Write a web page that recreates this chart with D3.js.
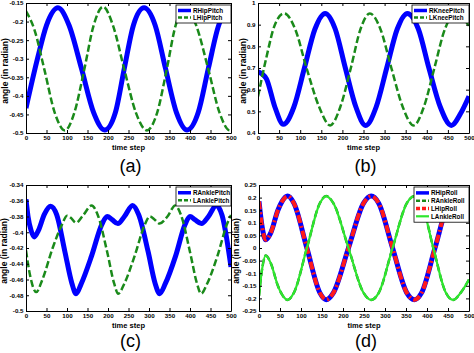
<!DOCTYPE html>
<html>
<head>
<meta charset="utf-8">
<script src="https://cdn.jsdelivr.net/npm/d3@7"></script>
<style>
body { margin: 0; background: #fff; }
text { font-family: "Liberation Sans", Arial, sans-serif; }
</style>
</head>
<body>
<script>
// time steps shared by all four panels
const xTicks = [0, 50, 100, 150, 200, 250, 300, 350, 400, 450, 500];

// (a) hip pitch
const yTicksA = [-0.5, -0.45, -0.4, -0.35, -0.3, -0.25, -0.2, -0.15];
const yLabelsA = ["-0.5", "-0.45", "-0.4", "-0.35", "-0.3", "-0.25", "-0.2", "-0.15"];
const rHipPitch = [[0,-0.433],[28,-0.30],[50,-0.21],[78,-0.163],[105,-0.21],[135,-0.325],[165,-0.445],[192,-0.492],[218,-0.445],[240,-0.325],[262,-0.21],[288,-0.163],[315,-0.21],[340,-0.325],[367,-0.445],[393,-0.492],[420,-0.445],[445,-0.325],[470,-0.21],[495,-0.165],[500,-0.166]];
const lHipPitch = [[0,-0.172],[20,-0.22],[45,-0.33],[70,-0.445],[95,-0.493],[118,-0.445],[142,-0.33],[165,-0.21],[188,-0.16],[212,-0.21],[240,-0.33],[268,-0.445],[295,-0.493],[320,-0.445],[343,-0.33],[365,-0.21],[388,-0.16],[415,-0.21],[445,-0.33],[472,-0.445],[497,-0.493],[500,-0.492]];

// (b) knee pitch
const yTicksB = [0.4, 0.5, 0.6, 0.7, 0.8, 0.9, 1];
const yLabelsB = ["0.4", "0.5", "0.6", "0.7", "0.8", "0.9", "1"];
const rKneePitch = [[0,0.683],[10,0.672],[20,0.65],[40,0.52],[60,0.44],[85,0.52],[110,0.70],[135,0.88],[159,0.952],[183,0.88],[207,0.70],[232,0.52],[255,0.435],[280,0.52],[305,0.70],[330,0.88],[354,0.952],[380,0.88],[405,0.70],[432,0.52],[458,0.435],[480,0.49],[500,0.57]];
const lKneePitch = [[0,0.568],[20,0.75],[40,0.90],[62,0.952],[88,0.88],[115,0.70],[145,0.52],[171,0.435],[195,0.52],[220,0.70],[243,0.88],[265,0.952],[290,0.88],[316,0.70],[343,0.52],[369,0.435],[393,0.52],[418,0.70],[443,0.88],[467,0.952],[490,0.92],[500,0.895]];

// (c) ankle pitch
const yTicksC = [-0.5, -0.48, -0.46, -0.44, -0.42, -0.4, -0.38, -0.36, -0.34];
const yLabelsC = ["-0.5", "-0.48", "-0.46", "-0.44", "-0.42", "-0.4", "-0.38", "-0.36", "-0.34"];
const rAnklePitch = [[0,-0.358],[5,-0.38],[12,-0.397],[20,-0.406],[30,-0.398],[45,-0.377],[60,-0.367],[75,-0.378],[95,-0.425],[112,-0.465],[122,-0.478],[135,-0.465],[160,-0.43],[185,-0.39],[198,-0.38],[210,-0.384],[224,-0.389],[240,-0.38],[260,-0.366],[275,-0.378],[298,-0.425],[315,-0.465],[326,-0.478],[340,-0.465],[365,-0.43],[388,-0.39],[400,-0.38],[412,-0.384],[428,-0.389],[445,-0.38],[464,-0.366],[478,-0.378],[500,-0.444]];
const lAnklePitch = [[0,-0.423],[10,-0.455],[25,-0.476],[40,-0.46],[65,-0.42],[88,-0.39],[100,-0.379],[110,-0.382],[122,-0.388],[140,-0.378],[160,-0.366],[175,-0.378],[198,-0.425],[215,-0.465],[225,-0.478],[240,-0.465],[265,-0.43],[290,-0.39],[302,-0.38],[314,-0.384],[326,-0.389],[345,-0.38],[364,-0.366],[378,-0.378],[400,-0.425],[417,-0.465],[427,-0.478],[442,-0.465],[467,-0.43],[490,-0.39],[500,-0.378]];

// (d) roll joints
const yTicksD = [-0.25, -0.2, -0.15, -0.1, -0.05, 0, 0.05, 0.1, 0.15, 0.2, 0.25];
const yLabelsD = ["-0.25", "-0.2", "-0.15", "-0.1", "-0.05", "0", "0.05", "0.1", "0.15", "0.2", "0.25"];
const rHipRoll = [[0,0.185],[6,0.1],[16,0.033],[28,0.06],[45,0.15],[55,0.185],[68,0.206],[83,0.178],[114,0],[145,-0.178],[160,-0.205],[177,-0.178],[213,0],[249,0.178],[267,0.206],[285,0.178],[318,0],[352,-0.178],[370,-0.205],[387,-0.178],[419,0],[451,0.178],[468,0.206],[485,0.19],[500,0.16]];
const lHipRoll = [[0,0.185],[6,0.1],[16,0.033],[28,0.06],[45,0.15],[55,0.185],[68,0.206],[83,0.178],[114,0],[145,-0.178],[160,-0.205],[177,-0.178],[213,0],[249,0.178],[267,0.206],[285,0.178],[318,0],[352,-0.178],[370,-0.205],[387,-0.178],[419,0],[451,0.178],[468,0.206],[485,0.19],[500,0.16]];
const rAnkleRoll = [[0,-0.19],[6,-0.1],[16,-0.03],[28,-0.06],[45,-0.15],[55,-0.185],[68,-0.206],[83,-0.178],[114,0],[145,0.178],[160,0.206],[177,0.178],[213,0],[249,-0.178],[267,-0.206],[285,-0.178],[318,0],[352,0.178],[370,0.206],[387,0.178],[415,0],[445,-0.178],[462,-0.206],[480,-0.178],[500,-0.125]];
const lAnkleRoll = [[0,-0.19],[6,-0.1],[16,-0.03],[28,-0.06],[45,-0.15],[55,-0.185],[68,-0.206],[83,-0.178],[114,0],[145,0.178],[160,0.206],[177,0.178],[213,0],[249,-0.178],[267,-0.206],[285,-0.178],[318,0],[352,0.178],[370,0.206],[387,0.178],[415,0],[445,-0.178],[462,-0.206],[480,-0.178],[500,-0.125]];

const blue = {stroke: '#0000ff', width: 5, dash: null};
const darkGreen = {stroke: '#1a8a1a', width: 2.5, dash: '7,3'};
const red = {stroke: '#ff1a1a', width: 4, dash: '8,3,2,3'};
const lightGreen = {stroke: '#2ee62e', width: 2.2, dash: null};

const panels = [
  {name: '(a)', left: 26, right: 231, top: 3, bottom: 133, ylab: 7.5, cap: 39, domain: [-0.5, -0.15], yTicks: yTicksA, yLabels: yLabelsA,
   series: [{label: 'RHipPitch', data: rHipPitch, style: blue}, {label: 'LHipPitch', data: lHipPitch, style: darkGreen}],
   legend: {x: 176, y: 5, w: 55, row: 7}},
  {name: '(b)', left: 258, right: 469, top: 3, bottom: 133, ylab: 246, cap: 39, domain: [0.4, 1], yTicks: yTicksB, yLabels: yLabelsB,
   series: [{label: 'RKneePitch', data: rKneePitch, style: blue}, {label: 'LKneePitch', data: lKneePitch, style: darkGreen}],
   legend: {x: 412, y: 5, w: 57, row: 7}},
  {name: '(c)', left: 26, right: 231, top: 185, bottom: 311, ylab: 7, cap: 36, domain: [-0.5, -0.34], yTicks: yTicksC, yLabels: yLabelsC,
   series: [{label: 'RAnklePitch', data: rAnklePitch, style: blue}, {label: 'LAnklePitch', data: lAnklePitch, style: darkGreen}],
   legend: {x: 176, y: 187, w: 55, row: 7.5}},
  {name: '(d)', left: 259, right: 469, top: 185, bottom: 311, ylab: 238.5, cap: 36, domain: [-0.25, 0.25], yTicks: yTicksD, yLabels: yLabelsD,
   series: [{label: 'RHipRoll', data: rHipRoll, style: blue}, {label: 'RAnkleRoll', data: rAnkleRoll, style: darkGreen},
            {label: 'LHipRoll', data: lHipRoll, style: red}, {label: 'LAnkleRoll', data: lAnkleRoll, style: lightGreen}],
   legend: {x: 414, y: 187, w: 55, row: 7.8}}
];

const svg = d3.select('body').append('svg')
  .attr('width', 474)
  .attr('height', 353);

panels.forEach(function(p, i) {
  const x = d3.scaleLinear().domain([0, 500]).range([p.left, p.right]);
  const y = d3.scaleLinear().domain(p.domain).range([p.bottom, p.top]);
  const g = svg.append('g');

  svg.append('clipPath').attr('id', 'clip' + i)
    .append('rect')
    .attr('x', p.left).attr('y', p.top)
    .attr('width', p.right - p.left).attr('height', p.bottom - p.top);

  const line = d3.line()
    .x(d => x(d[0]))
    .y(d => y(d[1]))
    .curve(d3.curveMonotoneX);

  p.series.forEach(function(s) {
    g.append('path')
      .attr('clip-path', 'url(#clip' + i + ')')
      .attr('d', line(s.data))
      .attr('fill', 'none')
      .attr('stroke', s.style.stroke)
      .attr('stroke-width', s.style.width)
      .attr('stroke-dasharray', s.style.dash)
      .attr('stroke-linejoin', 'round');
  });

  // axes with inward ticks, MATLAB box style
  const bottomAxis = d3.axisBottom(x).tickValues(xTicks).tickSizeInner(-3).tickSizeOuter(0).tickPadding(3);
  const leftAxis = d3.axisLeft(y).tickValues(p.yTicks).tickSizeInner(-3).tickSizeOuter(0).tickPadding(2.5)
    .tickFormat((d, k) => p.yLabels[k]);
  const topAxis = d3.axisTop(x).tickValues(xTicks).tickSizeInner(-3).tickSizeOuter(0).tickFormat('');
  const rightAxis = d3.axisRight(y).tickValues(p.yTicks).tickSizeInner(-3).tickSizeOuter(0).tickFormat('');

  [[bottomAxis, 0, p.bottom], [leftAxis, p.left, 0], [topAxis, 0, p.top], [rightAxis, p.right, 0]].forEach(function(a) {
    const ax = g.append('g').attr('transform', 'translate(' + a[1] + ',' + a[2] + ')').call(a[0]);
    ax.selectAll('path, line').attr('stroke', '#000').attr('stroke-width', 1);
    ax.selectAll('text').attr('font-size', 6.2).attr('font-weight', 'bold')
      .attr('font-family', '"Liberation Sans", Arial, sans-serif').attr('fill', '#000');
  });

  g.append('text')
    .attr('x', (p.left + p.right) / 2)
    .attr('y', p.bottom + 17)
    .attr('text-anchor', 'middle')
    .attr('font-size', 7.5).attr('font-weight', 'bold')
    .text('time step');

  g.append('text')
    .attr('transform', 'translate(' + p.ylab + ',' + ((p.top + p.bottom) / 2 + 3) + ') rotate(-90)')
    .attr('text-anchor', 'middle')
    .attr('font-size', 8.5).attr('font-weight', 'bold')
    .text('angle (in radian)');

  g.append('text')
    .attr('x', (p.left + p.right) / 2 + 2)
    .attr('y', p.bottom + p.cap)
    .attr('text-anchor', 'middle')
    .attr('font-family', '"Liberation Serif", "Times New Roman", serif')
    .attr('font-size', 18)
    .text(p.name);

  // legend
  const L = p.legend;
  const lg = g.append('g');
  lg.append('rect')
    .attr('x', L.x).attr('y', L.y)
    .attr('width', L.w).attr('height', L.row * p.series.length + 4)
    .attr('fill', '#fff').attr('stroke', '#000').attr('stroke-width', 0.8);
  p.series.forEach(function(s, k) {
    const ry = L.y + 2 + L.row * (k + 0.5);
    lg.append('line')
      .attr('x1', L.x + 2).attr('x2', L.x + 15)
      .attr('y1', ry).attr('y2', ry)
      .attr('stroke', s.style.stroke)
      .attr('stroke-width', Math.min(s.style.width, 3.5))
      .attr('stroke-dasharray', s.style.dash ? '4,2' : null);
    lg.append('text')
      .attr('x', L.x + 17).attr('y', ry + 2.3)
      .attr('font-size', 6.3).attr('font-weight', 'bold')
      .text(s.label);
  });
});
</script>
</body>
</html>
